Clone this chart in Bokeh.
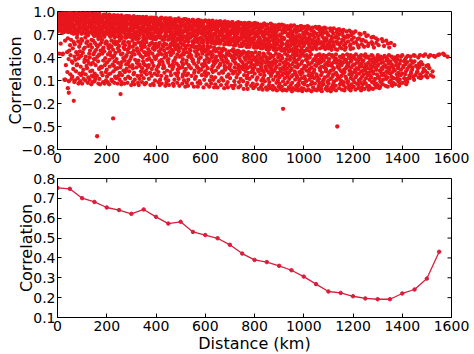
from bokeh.plotting import figure
from bokeh.models import Range1d, FixedTicker, CustomJSTickFormatter, ColumnDataSource
from bokeh.layouts import column
from bokeh.embed import file_html
from bokeh.resources import INLINE

# ---------------- data ----------------
# top panel: pairwise correlation vs distance, read in 10 km columns.
# entry "km: tokens"; token "yy.d" = correlation yy/100 at km-5+d
scatter_columns = [
    "5:99.3 98.7 96.1 94.5 91.9 89.2 86.6 84.5 80.3 77.8 74.2 45.7",
    "15:99.1 97.5 95.9 93.2 90.6 88.0 85.4 82.8 78.1 75.6 72.9 58.3",
    "25:98.4 96.2 94.7 92.9 89.3 86.8 83.1 81.5 79.9 76.2 73.6 44.0 11.8",
    "35:99.6 97.0 95.3 91.4 90.8 87.2 84.6 80.0 77.5 74.7 62.1 47.9 30.4",
    "45:98.8 96.4 93.1 91.7 88.5 85.0 82.3 79.6 75.1 73.4 65.2 49.8 38.5 21.0 9.6",
    "55:99.2 97.9 94.4 92.6 89.0 86.3 83.7 80.9 76.4 72.8 63.5 56.1 43.3 35.8 18.2 12.7",
    "65:98.0 96.8 93.5 90.2 88.7 84.1 81.4 78.9 74.3 71.5 60.6 52.2 41.9 33.1 25.4 15.0 8.8",
    "75:98.5 97.3 95.1 91.6 87.9 85.8 82.0 77.4 75.7 72.2 66.9 57.0 47.6 37.3 30.8 22.5 10.1",
    "85:99.0 96.6 94.0 92.3 88.8 86.1 83.9 80.5 76.7 73.3 70.0 61.4 54.8 44.2 39.6 31.0 19.9 13.2 6.5",
    "95:98.6 97.2 93.8 90.7 89.4 85.3 81.1 78.6 74.0 71.8 64.7 58.3 48.1 42.6 28.4 17.7 9.2",
    "105:97.9 95.5 94.2 91.0 87.4 84.9 82.7 79.2 76.5 72.1 62.0 51.6 46.3 34.9 24.5 20.2 12.6 6.0",
    "115:98.3 96.9 92.4 90.9 88.1 86.7 83.2 80.6 77.1 74.8 71.4 66.3 59.7 53.1 41.5 37.0 29.8 18.4 10.3",
    "125:97.7 95.0 93.6 91.3 87.2 85.6 81.9 78.0 75.3 72.6 69.4 61.1 55.5 45.9 36.2 33.7 26.0 14.5 7.3",
    "135:98.1 96.5 94.9 89.8 88.3 84.4 82.6 79.5 76.9 73.0 63.8 57.4 49.2 40.1 31.6 22.3 16.9 11.0 5.7",
    "145:97.4 96.0 92.7 90.1 86.5 83.0 80.2 77.7 74.6 71.2 68.9 62.5 53.0 44.6 38.8 33.4 23.1 15.6 8.2",
    "155:97.6 94.8 93.3 90.5 88.6 85.7 81.0 79.3 75.5 73.9 70.4 59.2 56.9 50.7 47.0 38.3 30.5 19.1 12.4 9.0",
    "165:96.2 95.3 91.8 89.6 86.0 83.5 80.8 78.4 74.1 72.7 68.2 64.6 54.3 43.8 41.2 35.5 25.9 16.0 6.6",
    "175:97.0 94.1 92.9 88.4 87.7 84.0 81.6 77.2 75.9 71.1 67.5 60.9 57.3 49.5 44.0 28.7 26.1 20.8 12.0 5.3",
    "185:96.8 95.6 91.2 89.1 85.5 82.9 79.7 76.0 73.4 70.6 63.1 53.7 51.4 45.2 36.6 27.0 17.3 8.5",
    "195:96.4 93.7 92.0 88.9 86.4 82.2 80.1 77.9 74.7 71.3 69.1 67.0 61.8 58.5 48.0 39.4 33.9 30.2 21.6 10.7 6.1",
    "205:95.9 94.5 90.3 87.5 85.2 83.8 79.0 76.3 72.5 70.9 60.0 55.6 52.8 44.5 34.3 24.0 18.7 15.1 8.4",
    "215:96.1 93.0 91.5 88.2 84.6 81.3 78.8 75.2 73.7 70.1 67.4 62.9 56.2 47.3 43.6 37.1 28.2 19.5 11.9 5.0",
    "225:95.7 94.3 89.9 87.0 85.9 82.4 79.4 76.8 71.7 69.5 59.8 54.0 50.6 40.3 31.4 29.9 22.7 9.3",
    "235:95.2 92.6 91.1 89.0 84.8 82.1 77.6 75.0 72.3 68.6 66.2 61.3 57.7 46.5 42.0 35.2 25.6 15.4 13.8 7.1",
    "245:95.5 93.9 90.0 87.6 85.1 80.7 78.2 74.4 72.9 67.8 60.4 52.5 48.9 38.0 33.6 26.3 16.8 6.4",
    "255:94.6 93.4 90.8 86.2 84.3 81.8 79.5 76.1 71.0 68.3 65.9 62.2 55.0 49.1 44.8 30.7 27.5 20.3 11.2 5.9",
    "265:95.0 92.1 89.5 87.3 83.6 80.4 77.0 74.9 72.0 67.1 58.6 53.9 45.4 39.7 34.1 23.8 17.2 8.0",
    "275:94.8 93.2 90.6 86.9 84.7 82.5 78.3 75.8 73.1 70.5 66.6 61.0 56.4 51.2 41.8 36.3 31.9 21.4 12.5 6.2",
    "285:94.3 91.9 89.2 88.0 83.4 81.0 77.5 76.4 71.9 69.0 66.0 60.7 50.3 47.8 43.1 32.6 25.0 15.7 7.4",
    "295:94.1 92.8 90.4 85.6 84.0 80.9 78.7 74.2 69.8 67.3 59.1 55.2 52.0 38.6 35.0 28.3 22.1 13.5 4.9",
    "305:93.8 92.2 88.5 86.4 82.8 81.2 76.6 75.1 70.3 68.8 65.5 62.4 54.6 46.2 41.0 30.4 26.6 18.9 8.6",
    "315:94.0 91.4 89.7 87.1 83.3 79.8 78.0 73.5 71.6 67.7 64.9 58.2 57.5 49.0 44.3 37.5 20.1 11.4 5.2",
    "325:93.5 92.0 88.0 85.3 82.0 80.6 76.9 74.5 70.0 66.5 60.8 52.3 48.6 36.9 33.2 27.1 16.5 7.7",
    "335:93.3 90.9 89.4 86.6 84.2 78.4 77.4 72.7 69.2 65.0 59.6 55.9 45.1 42.8 31.2 29.4 22.9 12.3 4.0",
    "345:93.7 91.7 87.8 85.0 81.5 79.1 75.6 73.2 69.9 66.8 61.5 53.4 50.0 40.6 35.8 26.4 17.0 8.3",
    "355:92.9 90.2 88.3 86.0 83.7 80.0 77.3 73.8 68.1 65.7 63.0 57.1 54.5 47.2 43.9 32.0 30.6 21.2 13.0 5.4",
    "365:93.1 91.5 87.4 84.5 81.9 78.6 75.0 72.4 69.6 64.2 60.1 51.8 46.0 37.4 27.7 23.0 18.2 7.0",
    "375:92.7 89.7 88.8 85.2 82.3 79.9 77.1 74.0 70.7 67.2 65.8 58.9 56.3 48.4 44.0 39.2 30.1 20.6 12.1 4.7",
    "385:92.4 91.1 86.8 84.9 80.5 78.1 76.3 71.3 69.0 64.7 59.4 52.7 45.5 36.1 33.5 25.3 16.2 6.8",
    "395:92.6 89.3 88.2 85.8 82.6 79.2 76.7 73.6 68.4 67.0 64.5 57.6 54.2 50.4 41.3 38.7 29.0 19.4 10.6 4.1",
    "405:92.0 90.5 87.1 83.9 81.1 78.5 74.3 72.8 68.7 64.0 58.0 53.3 43.7 39.0 28.8 24.2 17.5 8.9",
    "415:91.8 89.0 86.5 85.5 82.7 77.8 76.0 71.5 69.3 66.4 59.5 55.1 48.2 46.6 35.4 31.3 21.0 11.7 4.5",
    "425:92.2 90.0 86.0 84.1 80.8 79.3 75.4 73.1 68.0 63.6 56.8 51.0 44.4 37.2 34.7 26.9 16.1 6.3",
    "435:91.6 89.6 87.7 83.2 81.7 77.0 75.7 70.8 67.5 65.2 63.3 58.4 54.0 49.3 40.5 30.0 27.3 20.4 12.9 3.8",
    "445:91.3 88.4 86.3 84.8 80.1 78.9 74.6 72.0 68.5 63.9 57.3 52.6 45.0 42.2 36.7 23.5 15.3 7.2",
    "455:91.5 89.8 85.7 83.0 81.3 77.6 75.2 71.9 67.9 64.4 55.8 53.6 47.4 38.1 33.0 29.6 21.8 10.0 4.3",
    "465:91.0 87.9 86.9 82.5 80.0 77.2 73.3 70.6 66.1 62.7 58.1 50.5 46.9 43.0 31.8 25.7 17.1 6.9",
    "475:90.7 88.6 84.4 83.6 80.6 78.0 74.8 69.4 67.6 63.0 60.3 56.2 54.7 49.0 37.6 35.1 28.0 19.8 11.5 3.2",
    "485:90.9 89.1 85.0 82.2 79.6 76.5 74.0 71.2 65.8 62.3 57.5 51.1 44.7 40.0 32.4 24.8 16.6 7.6",
    "495:91.2 87.3 84.9 82.8 78.2 76.1 72.5 70.2 66.7 63.5 59.9 55.0 52.4 48.3 41.6 29.2 26.5 20.0 12.2 3.5",
    "505:89.5 88.2 86.1 81.4 79.0 75.5 73.7 69.1 64.6 62.0 57.8 53.0 43.4 38.9 34.5 27.6 15.8 6.7",
    "515:90.4 87.0 83.8 82.0 78.8 76.9 73.0 68.2 67.3 61.6 56.5 50.2 46.1 44.3 31.0 22.6 18.0 10.4 2.9",
    "525:90.1 88.8 85.6 81.0 79.4 75.1 74.4 69.7 65.3 62.6 54.1 52.0 47.5 36.4 33.3 25.1 17.4 7.5",
    "535:89.3 86.7 84.2 80.4 77.7 76.3 72.2 70.0 64.1 61.2 56.0 51.7 45.6 41.1 30.3 28.5 19.0 11.1 3.0",
    "545:89.9 87.6 82.4 81.7 78.1 75.8 71.4 68.6 66.0 61.8 55.4 49.0 43.2 39.5 35.9 26.2 16.4 6.6",
    "555:89.0 87.2 85.3 80.3 77.0 74.7 71.0 69.5 63.7 60.5 57.0 53.5 48.8 37.0 32.5 23.7 20.5 12.8 2.4",
    "565:88.6 86.4 83.3 81.6 76.4 73.9 70.8 67.0 64.3 61.0 54.4 50.9 46.4 42.4 29.5 27.8 15.2 7.9",
    "575:89.2 87.4 82.1 79.7 77.3 73.2 72.1 65.4 63.2 60.0 56.7 52.9 44.1 38.4 34.2 25.5 21.3 9.7 2.0",
    "585:88.3 85.1 84.0 80.2 75.9 74.5 71.6 66.3 62.8 60.6 53.2 49.6 45.8 40.2 31.7 24.3 17.6 6.0",
    "595:88.9 86.2 83.1 79.5 78.4 74.1 70.5 68.9 64.0 60.2 55.3 51.5 47.0 36.8 33.8 28.1 20.7 11.6 1.3",
    "605:88.1 86.9 81.8 80.7 76.2 72.6 70.1 66.9 63.4 59.9 54.9 48.0 43.5 39.8 30.2 22.0 16.3 5.5",
    "615:88.5 85.4 83.7 78.3 77.5 73.6 69.8 65.6 63.0 59.0 52.1 50.0 45.3 37.7 34.4 26.0 19.2 10.9 2.6",
    "625:87.8 86.0 82.6 79.0 75.3 73.0 69.2 67.8 62.1 59.6 54.2 47.1 42.5 40.7 28.9 24.6 15.5 6.4",
    "635:88.0 84.3 81.2 79.8 77.4 71.7 70.3 65.1 61.4 58.7 53.6 49.4 44.0 35.3 31.5 29.1 21.1 11.3 1.6",
    "645:87.5 85.6 83.0 78.7 75.6 72.3 68.4 64.8 62.5 58.3 51.9 48.3 41.4 38.2 33.1 23.3 14.0 5.1",
    "655:87.9 84.7 81.5 80.1 76.0 74.2 70.9 67.4 63.6 59.2 52.6 46.7 43.9 36.0 30.9 27.2 19.6 9.5 1.0",
    "665:87.2 85.9 82.3 77.8 76.7 72.0 69.6 64.9 61.2 58.0 50.8 47.5 40.4 37.8 32.2 22.8 13.6 4.4",
    "675:86.6 84.9 80.9 79.2 74.4 73.1 68.6 66.5 62.4 57.7 52.3 49.0 42.1 34.6 29.8 25.9 20.2 10.3 0.7",
    "685:87.0 83.8 82.0 77.1 75.8 71.8 67.2 65.7 60.6 58.5 50.1 45.7 41.2 38.5 27.4 24.1 15.8 5.6",
    "695:86.3 85.2 80.5 78.0 74.9 70.6 69.3 64.2 61.9 57.4 48.6 46.3 43.7 35.1 33.0 26.8 18.5 8.1 1.2",
    "705:86.9 84.1 81.1 76.8 73.5 71.4 68.0 63.3 60.2 57.1 49.8 43.2 40.8 31.3 29.0 23.6 13.1 3.7",
    "715:86.1 83.6 80.3 77.6 75.1 72.4 66.8 65.2 61.6 56.6 51.4 47.7 42.6 36.3 27.9 21.5 19.3 9.8 0.4",
    "725:85.8 84.5 79.3 76.4 73.8 70.0 67.6 63.9 59.5 56.2 48.2 44.6 39.1 34.0 32.4 22.2 14.7 4.0",
    "735:86.4 82.7 81.4 78.2 74.6 71.1 66.3 62.6 59.0 55.9 49.3 46.0 41.7 30.5 26.3 24.7 18.1 8.7 1.5",
    "745:85.5 84.0 78.9 77.3 72.9 69.7 65.8 64.4 58.8 55.4 47.2 43.4 38.0 35.6 28.6 21.0 12.4 3.3",
    "755:85.9 83.2 80.6 75.7 73.6 68.5 67.9 61.7 58.3 55.0 48.5 45.1 40.9 33.2 29.7 25.3 17.8 9.4 -1.6",
    "765:84.7 82.4 79.1 77.0 71.5 70.4 64.6 62.9 57.5 54.7 46.4 42.8 37.3 31.6 27.5 22.4 13.9 4.8",
    "775:85.6 83.1 78.5 75.2 73.3 68.1 65.9 60.8 59.8 54.3 47.6 44.2 39.7 34.5 26.1 20.6 16.0 7.1 -1.2",
    "785:85.0 81.8 80.0 74.5 71.9 69.0 63.8 61.3 57.2 54.0 46.8 41.3 36.9 32.7 28.2 21.7 12.0 3.6",
    "795:84.4 83.4 77.7 76.1 72.6 66.9 65.0 60.4 56.8 53.8 45.3 43.0 38.6 30.8 25.2 23.4 15.1 6.3 0.5",
    "805:85.2 82.1 79.4 73.7 70.8 68.3 64.0 58.6 55.5 53.3 47.4 40.1 35.7 33.9 27.0 19.1 11.8 2.2",
    "815:84.2 81.3 78.6 76.6 71.2 67.5 62.7 60.1 54.8 53.0 44.9 42.3 37.0 31.1 24.4 22.7 14.2 5.0 -1.8",
    "825:83.5 82.5 77.2 74.8 72.2 66.0 63.4 59.3 56.1 52.6 46.0 39.4 34.1 29.6 26.7 18.4 10.8 2.7",
    "835:84.9 80.4 79.0 73.3 69.4 67.7 61.8 58.0 55.7 52.2 45.6 41.5 36.4 32.0 23.2 21.8 13.5 5.2 -2.3",
    "845:84.0 82.2 76.5 75.4 70.2 65.6 63.1 57.6 54.4 51.8 43.1 38.9 33.6 28.4 25.7 17.0 9.2 1.7",
    "855:83.3 81.0 78.3 72.1 69.9 64.5 62.0 59.7 55.2 51.5 46.6 40.0 35.3 30.7 22.5 20.9 12.6 4.9 -2.1",
    "865:84.6 79.7 77.8 74.2 68.7 66.4 61.0 56.5 54.6 51.1 44.4 39.2 33.4 27.3 24.9 16.7 8.0 0.3",
    "875:83.0 82.8 75.9 73.0 70.5 63.6 62.5 58.9 53.6 50.8 42.7 41.0 34.2 29.1 21.4 19.0 11.6 3.4 -2.5",
    "885:82.6 80.2 78.1 71.6 67.0 65.2 60.5 55.3 53.2 50.4 45.7 37.1 32.3 26.5 23.1 15.6 7.9 0.2",
    "895:83.9 79.2 76.0 74.0 68.2 64.3 59.1 57.4 52.7 50.0 43.8 40.6 35.0 28.0 20.3 18.6 10.5 2.8 -3.1",
    "905:82.3 81.5 77.1 70.4 67.8 62.2 60.9 54.7 52.1 49.9 44.0 36.5 31.2 25.4 22.6 14.1 6.2 -1.5",
    "915:83.1 78.8 75.3 72.5 66.6 63.0 58.4 56.0 51.7 49.5 42.0 39.3 33.7 27.6 19.8 17.2 9.6 2.1 -3.4",
    "925:82.0 80.7 74.1 73.6 65.1 64.0 57.9 53.9 51.4 49.2 45.4 35.6 30.4 24.0 21.9 13.3 5.5 -2.2",
    "935:81.4 79.0 77.4 69.5 68.8 61.5 59.3 55.5 51.0 48.9 43.3 38.2 32.6 26.2 18.3 16.4 8.5 1.9 -3.0",
    "945:82.8 78.1 75.6 71.0 64.7 62.8 56.6 54.1 50.6 48.1 41.5 37.4 29.3 23.5 20.0 12.1 4.7 -1.3",
    "955:81.2 80.0 73.4 70.2 66.0 60.4 58.0 52.8 50.3 47.8 44.7 34.8 31.3 25.1 17.5 15.0 7.3 0.6 -4.2",
    "965:82.1 77.5 76.2 68.0 65.4 62.1 57.0 55.7 50.0 47.5 42.4 39.0 28.5 22.3 19.6 11.5 3.9 -2.6",
    "975:80.5 79.3 74.0 72.0 67.3 63.3 60.0 54.0 51.2 47.2 43.5 36.0 33.1 27.4 16.2 14.3 6.8 1.4 -3.7",
    "985:81.7 76.8 75.0 69.3 66.7 61.2 58.5 56.1 49.5 46.9 41.7 38.0 30.0 21.2 18.8 10.2 4.0 -2.9",
    "995:81.0 78.4 72.8 70.9 64.5 62.0 59.6 53.1 50.2 46.6 44.1 35.4 32.0 24.2 20.5 13.0 7.6 0.1 -4.4",
    "1005:80.3 79.0 74.6 68.3 66.2 60.5 57.1 55.0 49.8 48.0 42.3 37.9 29.4 26.0 15.3 12.5 5.2 -1.0",
    "1015:81.5 76.2 73.1 71.5 65.0 61.1 58.8 52.5 50.4 43.2 39.5 34.6 28.0 23.1 17.9 9.0 3.6 -3.2",
    "1025:80.0 78.2 70.6 67.4 64.1 59.0 56.3 53.7 48.5 41.2 40.4 31.1 25.5 22.0 14.8 11.3 5.9 -2.0",
    "1035:79.6 77.0 75.1 69.7 63.0 62.5 58.3 51.6 44.0 36.8 33.3 27.2 19.1 16.6 8.4 1.8 -4.1",
    "1045:80.8 74.0 72.3 66.4 61.7 57.3 55.5 53.0 42.9 38.2 30.7 24.3 21.1 13.2 6.5 -2.4",
    "1055:79.1 78.5 71.2 68.8 62.6 59.7 55.0 51.2 43.7 40.1 35.3 29.0 18.2 15.4 10.6 0.9 -3.3",
    "1065:80.2 76.4 73.7 64.0 60.9 58.1 52.6 44.4 37.3 32.1 26.5 23.7 12.2 7.4 3.1 -2.7",
    "1075:78.3 75.5 70.0 67.6 59.2 56.6 53.4 41.0 39.4 34.0 28.3 20.4 17.0 9.8 4.5 0.0 -4.3",
    "1085:79.4 77.2 72.0 65.7 63.3 60.3 56.0 51.7 43.0 36.1 31.7 27.5 22.9 14.6 11.1 5.0 -1.9",
    "1095:78.0 73.3 70.7 65.2 62.3 57.7 54.0 42.2 40.0 33.5 25.0 24.1 16.8 8.6 2.4 -3.6",
    "1105:78.7 75.9 69.1 62.8 59.5 55.6 52.1 44.3 38.3 35.1 30.0 21.5 19.2 10.0 6.1 -2.2",
    "1115:77.1 74.6 67.3 64.4 56.9 53.2 50.3 43.4 41.6 32.4 29.4 23.0 15.7 12.0 4.8 1.2 -4.0",
    "1125:78.2 71.0 66.7 60.0 55.2 51.9 42.0 37.6 34.3 26.2 24.0 18.0 9.3 7.1 -1.1",
    "1135:76.5 73.5 68.2 61.4 58.6 50.6 44.1 39.0 33.2 28.8 20.1 17.6 11.4 3.0 -3.1",
    "1145:77.3 70.4 65.0 57.5 53.8 41.7 36.0 31.5 27.0 25.5 14.3 13.0 5.7 0.4",
    "1155:75.0 72.7 63.6 59.1 52.4 43.9 40.2 35.0 30.3 22.2 16.3 10.1 6.0 -2.5",
    "1165:76.1 68.0 62.2 56.4 50.7 42.1 38.4 33.0 24.4 21.6 19.0 8.2 4.1 -3.5",
    "1175:74.3 69.8 66.0 58.0 53.1 44.6 37.2 34.4 29.6 26.1 15.0 12.3 7.7 1.0",
    "1185:75.5 67.1 61.0 55.8 41.3 39.7 32.2 28.1 23.6 18.5 9.0 3.4 -1.4",
    "1195:73.4 69.2 63.5 57.0 51.0 43.0 36.4 35.2 27.3 22.0 17.4 13.1 5.3 0.2 -3.0",
    "1205:72.2 66.3 59.4 52.0 42.4 40.0 31.6 30.0 24.8 20.0 11.0 8.5 2.3",
    "1215:74.0 64.8 60.2 44.2 38.0 33.6 26.4 21.1 16.4 14.0 6.6 -2.0",
    "1225:71.6 65.4 56.0 53.3 41.4 37.4 34.0 29.7 25.2 19.5 10.4 4.2 0.1",
    "1235:70.1 62.4 57.6 43.3 39.1 32.3 28.5 22.4 15.7 12.1 7.0 1.6 -3.3",
    "1245:72.7 63.0 54.5 42.6 36.2 35.0 27.8 23.3 18.4 9.6 5.0 -1.7",
    "1255:68.4 61.2 44.0 40.3 31.0 29.4 24.0 20.6 13.3 6.2 2.8",
    "1265:69.0 58.3 55.1 41.1 38.7 33.2 26.0 21.8 17.1 11.7 3.5 -2.4",
    "1275:66.5 60.6 43.5 37.2 34.8 30.1 25.3 16.0 14.4 8.7 0.3",
    "1285:67.2 57.0 53.5 42.0 39.4 32.7 28.0 22.2 19.3 10.6 5.8 -1.1",
    "1295:65.3 59.5 40.8 36.0 35.6 27.1 24.5 18.7 12.0 6.4 1.3",
    "1305:63.0 56.4 43.1 38.5 31.3 29.0 23.9 15.2 13.6 4.0 0.7",
    "1315:64.7 41.3 37.0 33.5 26.6 21.2 17.7 9.1 7.5 2.0",
    "1325:61.1 55.6 42.8 39.0 34.2 28.3 25.0 19.4 11.2 5.1",
    "1335:62.5 40.4 36.6 30.0 27.7 22.6 16.1 12.5 3.2",
    "1345:58.2 53.7 43.6 38.1 32.5 24.7 20.2 14.0 8.8 2.1",
    "1355:59.4 41.7 35.1 31.8 27.0 19.2 15.6 10.3 4.6",
    "1365:56.8 39.3 37.7 29.2 25.5 21.0 13.4 7.3 3.0",
    "1375:40.1 34.5 30.6 23.0 18.8 12.6 5.2",
    "1385:42.2 38.0 28.4 26.3 20.5 14.1 9.4 3.7",
    "1395:41.5 36.2 32.0 24.5 17.3 11.0 6.1",
    "1405:43.0 35.7 29.5 27.4 19.0 13.8 7.2",
    "1415:40.6 37.1 31.3 22.5 18.2 10.4 5.6",
    "1425:42.3 34.0 28.8 25.1 16.9 12.2 8.0",
    "1435:41.4 36.5 30.2 21.6 19.5 13.0",
    "1445:43.7 33.3 27.2 24.0 15.4 11.8",
    "1455:42.1 35.0 29.6 20.9 17.3",
    "1465:40.5 32.8 26.4 22.1 14.7",
    "1475:43.2 34.6 28.0 18.3 13.5",
    "1485:42.6 31.2 25.7 21.4 15.0",
    "1495:44.3 29.8 23.2 16.6",
    "1505:41.7 30.5 20.1 14.2",
    "1515:43.4 26.0 17.6",
    "1525:42.8 22.3 15.5",
    "1535:41.3",
    "1545:43.5",
    "1555:44.0",
    "1565:45.6",
    "1575:43.2",
    "1585:41.4",
]
# isolated points of the top panel
outlier_km = [22, 32, 42, 46, 66, 161, 226, 256, 916, 1136]
outlier_corr = [0.45, 0.11, 0.00, -0.06, -0.165, -0.627, -0.395, -0.077, -0.27, -0.50]

# bottom panel: binned mean correlation
line_km = [0, 50, 100, 150, 200, 250, 300, 350, 400, 450, 500, 550, 600, 650, 700, 750,
           800, 850, 900, 950, 1000, 1050, 1100, 1150, 1200, 1250, 1300, 1350, 1400, 1450, 1500, 1550]
line_corr = [0.753, 0.748, 0.701, 0.682, 0.654, 0.641, 0.622, 0.644, 0.607, 0.573, 0.582, 0.531,
             0.515, 0.499, 0.466, 0.422, 0.390, 0.379, 0.360, 0.338, 0.306, 0.268, 0.231, 0.224,
             0.207, 0.196, 0.192, 0.192, 0.221, 0.241, 0.296, 0.431]

x_ticks = [0, 200, 400, 600, 800, 1000, 1200, 1400, 1600]
top_y_ticks = [-0.8, -0.5, -0.2, 0.1, 0.4, 0.7, 1.0]
bottom_y_ticks = [0.1, 0.2, 0.3, 0.4, 0.5, 0.6, 0.7, 0.8]

# ---------------- build ----------------
sx, sy = [], []
for col in scatter_columns:
    km, toks = col.split(":")
    for tok in toks.split():
        a, d = tok.split(".")
        sx.append(float(km) - 5 + int(d))
        sy.append(int(a) / 100.0)
sx += outlier_km
sy += outlier_corr

FONT = "DejaVu Sans"
TICK_FS = "14px"
LABEL_FS = "16px"
POINT_COLOR = "#e8161c"
LINE_COLOR = "#d81e3c"
FRAME_W = 394
TICK_LEN = 4  # px

yfmt_code = "return (tick < 0 ? '\\u2212' : '') + Math.abs(tick).toFixed(1);"


def style_axis(ax, ticks, y=False):
    ax.ticker = FixedTicker(ticks=ticks)
    ax.major_tick_in = TICK_LEN
    ax.major_tick_out = 0
    ax.minor_tick_line_color = None
    ax.major_tick_line_color = "black"
    ax.axis_line_color = "black"
    ax.axis_line_width = 1
    ax.major_label_text_font = FONT
    ax.major_label_text_font_size = TICK_FS
    ax.major_label_text_color = "black"
    ax.axis_label_text_font = FONT
    ax.axis_label_text_font_size = LABEL_FS
    ax.axis_label_text_font_style = "normal"
    ax.axis_label_text_color = "black"
    if y:
        ax.formatter = CustomJSTickFormatter(code=yfmt_code)
        ax.major_label_standoff = 2
        ax.axis_label_standoff = -6
    else:
        ax.major_label_standoff = 3
        ax.axis_label_standoff = 0


def make_fig(ymin, ymax, yticks, frame_h, top_b, bottom_b):
    p = figure(frame_width=FRAME_W, frame_height=frame_h,
               x_range=Range1d(0, 1600), y_range=Range1d(ymin, ymax),
               output_backend="svg", toolbar_location=None,
               min_border_left=57, min_border_right=23,
               min_border_top=top_b, min_border_bottom=bottom_b,
               background_fill_color="white", border_fill_color="white")
    p.grid.visible = False
    p.outline_line_color = "black"
    p.outline_line_width = 1
    style_axis(p.xaxis[0], x_ticks)
    style_axis(p.yaxis[0], yticks, y=True)
    p.yaxis[0].axis_label = "Correlation"
    # mirrored inward ticks on the top and right frame edges
    dy = TICK_LEN * (ymax - ymin) / frame_h
    dx = TICK_LEN * 1600.0 / FRAME_W
    p.segment(x0=x_ticks, y0=[ymax] * len(x_ticks), x1=x_ticks, y1=[ymax - dy] * len(x_ticks),
              line_color="black", line_width=1)
    p.segment(x0=[1600] * len(yticks), y0=yticks, x1=[1600 - dx] * len(yticks), y1=yticks,
              line_color="black", line_width=1)
    return p


p1 = make_fig(-0.8, 1.0, top_y_ticks, 138, 11, 16)
src = ColumnDataSource(data=dict(x=sx, y=sy))
p1.scatter("x", "y", source=src, size=4.3, fill_color=POINT_COLOR, line_color=None)

p2 = make_fig(0.1, 0.8, bottom_y_ticks, 139, 13, 37)
p2.xaxis[0].axis_label = "Distance (km)"
lsrc = ColumnDataSource(data=dict(x=line_km, y=line_corr))
p2.line("x", "y", source=lsrc, line_color=LINE_COLOR, line_width=1.3)
p2.scatter("x", "y", source=lsrc, size=3.5, fill_color=LINE_COLOR, line_color=LINE_COLOR)

layout = column(p1, p2, spacing=0)
open("out.html", "w").write(file_html(layout, INLINE))
